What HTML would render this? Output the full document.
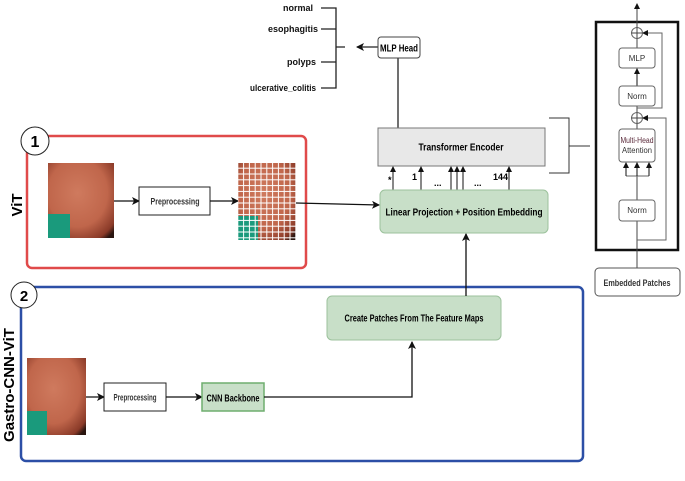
<!DOCTYPE html>
<html><head><style>body{margin:0;background:#fff}svg{display:block}text{font-family:"Liberation Sans",sans-serif}</style></head>
<body>
<svg width="685" height="481" viewBox="0 0 685 481" xmlns="http://www.w3.org/2000/svg">
<defs>
<marker id="a" markerWidth="8" markerHeight="8" refX="7" refY="4" orient="auto" markerUnits="userSpaceOnUse"><path d="M0,0 L8,4 L0,8 L2,4z" fill="#111"/></marker>
<marker id="s" markerWidth="6" markerHeight="6" refX="5" refY="3" orient="auto" markerUnits="userSpaceOnUse"><path d="M0,0 L6,3 L0,6z" fill="#111"/></marker>
<radialGradient id="g" cx="0.45" cy="0.4" r="0.75"><stop offset="0" stop-color="#cf7a5e"/><stop offset="0.6" stop-color="#c0664b"/><stop offset="0.9" stop-color="#8a3a28"/><stop offset="1" stop-color="#2a1510"/></radialGradient>
<pattern id="grid" width="5.8" height="5.8" patternUnits="userSpaceOnUse"><rect width="5.8" height="5.8" fill="none" stroke="#fff" stroke-width="1"/></pattern>
</defs>

<g font-size="9" font-weight="bold" fill="#111" text-anchor="end">
<text x="313" y="11">normal</text>
<text x="318" y="32">esophagitis</text>
<text x="316" y="65">polyps</text>
<text x="316" y="91" font-size="9.5" textLength="66" lengthAdjust="spacingAndGlyphs">ulcerative_colitis</text>
</g>
<g stroke="#222" stroke-width="1.3" fill="none">
<path d="M321,8 H336 V88 H321 M321,29 H336 M321,62 H336 M336,47 H345"/>
<line x1="378" y1="47" x2="357" y2="47" marker-end="url(#a)"/>
<line x1="398" y1="58" x2="398" y2="128"/>
</g>
<rect x="378" y="37" width="42" height="21" rx="3" fill="#fff" stroke="#444"/>
<text x="399" y="51.5" font-size="10" font-weight="bold" text-anchor="middle" textLength="38" lengthAdjust="spacingAndGlyphs">MLP Head</text>

<rect x="378" y="128" width="167" height="38" fill="#e8e8e8" stroke="#777"/>
<text x="461" y="150.5" font-size="10.5" font-weight="bold" text-anchor="middle" textLength="85" lengthAdjust="spacingAndGlyphs">Transformer Encoder</text>
<path d="M549,118 H569 V173 H549 M569,146 H590" stroke="#333" fill="none"/>
<g stroke="#111" stroke-width="1">
<line x1="393" y1="190" x2="393" y2="167" marker-end="url(#s)"/>
<line x1="421" y1="190" x2="421" y2="167" marker-end="url(#s)"/>
<line x1="451" y1="190" x2="451" y2="167" marker-end="url(#s)"/>
<line x1="457" y1="190" x2="457" y2="167" marker-end="url(#s)"/>
<line x1="463" y1="190" x2="463" y2="167" marker-end="url(#s)"/>
<line x1="509" y1="190" x2="509" y2="167" marker-end="url(#s)"/>
</g>
<g font-size="9" font-weight="bold">
<text x="388" y="183">*</text><text x="412" y="180">1</text>
<text x="434" y="186">...</text><text x="474" y="186">...</text><text x="493" y="180">144</text>
</g>
<rect x="380" y="190" width="168" height="43" rx="5" fill="#c8dfc8" stroke="#9cc29c"/>
<text x="464" y="215.5" font-size="10.5" font-weight="bold" text-anchor="middle" textLength="157" lengthAdjust="spacingAndGlyphs">Linear Projection + Position Embedding</text>

<rect x="27" y="136" width="279" height="132" rx="5" fill="none" stroke="#e04a4a" stroke-width="2.5"/>
<circle cx="35" cy="141" r="14" fill="#fff" stroke="#222"/>
<text x="35" y="147" font-size="16" font-weight="bold" text-anchor="middle">1</text>
<text transform="translate(22,205) rotate(-90)" font-size="15" font-weight="bold" text-anchor="middle">ViT</text>
<rect x="48" y="163" width="66" height="75" fill="url(#g)"/>
<rect x="48" y="214" width="22" height="24" fill="#1a9a7c"/>
<line x1="114" y1="201" x2="139" y2="201" stroke="#111" stroke-width="1.3" marker-end="url(#a)"/>
<rect x="139" y="187" width="71" height="28" fill="#fff" stroke="#222"/>
<text x="175" y="204.5" font-size="9.5" font-weight="bold" text-anchor="middle" fill="#333" textLength="49" lengthAdjust="spacingAndGlyphs">Preprocessing</text>
<line x1="210" y1="201" x2="238" y2="201" stroke="#111" stroke-width="1.3" marker-end="url(#a)"/>
<rect x="238" y="163" width="58" height="77" fill="url(#g)"/>
<rect x="238" y="216" width="20" height="24" fill="#1a9a7c"/>
<rect x="238" y="163" width="58" height="77" fill="url(#grid)"/>
<line x1="296" y1="203" x2="379" y2="205" stroke="#111" stroke-width="1.3" marker-end="url(#a)"/>

<rect x="21" y="287" width="562" height="174" rx="5" fill="none" stroke="#2c4fa6" stroke-width="2.5"/>
<circle cx="24" cy="295" r="13" fill="#fff" stroke="#222"/>
<text x="24" y="301" font-size="15" font-weight="bold" text-anchor="middle">2</text>
<text transform="translate(14,385) rotate(-90)" font-size="15" font-weight="bold" text-anchor="middle">Gastro-CNN-ViT</text>
<rect x="27" y="358" width="59" height="77" fill="url(#g)"/>
<rect x="27" y="411" width="20" height="24" fill="#1a9a7c"/>
<line x1="86" y1="397" x2="104" y2="397" stroke="#111" stroke-width="1.3" marker-end="url(#a)"/>
<rect x="104" y="383" width="62" height="28" fill="#fff" stroke="#222"/>
<text x="135" y="400.5" font-size="9.5" font-weight="bold" text-anchor="middle" fill="#333" textLength="43" lengthAdjust="spacingAndGlyphs">Preprocessing</text>
<line x1="166" y1="397" x2="202" y2="397" stroke="#111" stroke-width="1.3" marker-end="url(#a)"/>
<rect x="202" y="383" width="62" height="28" fill="#c8dfc8" stroke="#6fae6f" stroke-width="1.5"/>
<text x="233" y="401.5" font-size="10.5" font-weight="bold" text-anchor="middle" textLength="53" lengthAdjust="spacingAndGlyphs">CNN Backbone</text>
<path d="M264,397 H412 V342" stroke="#111" stroke-width="1.3" fill="none" marker-end="url(#a)"/>
<rect x="327" y="296" width="174" height="44" rx="5" fill="#c8dfc8" stroke="#9cc29c"/>
<text x="414" y="321.5" font-size="10.5" font-weight="bold" text-anchor="middle" textLength="139" lengthAdjust="spacingAndGlyphs">Create Patches From The  Feature Maps</text>
<line x1="466" y1="296" x2="466" y2="234" stroke="#111" stroke-width="1.3" marker-end="url(#a)"/>

<rect x="596" y="22" width="82" height="228" fill="none" stroke="#111" stroke-width="2.5"/>
<line x1="637" y1="268" x2="637" y2="4" stroke="#444" marker-end="url(#s)"/>
<rect x="595" y="268" width="85" height="28" rx="4" fill="#fff" stroke="#555"/>
<text x="637" y="286" font-size="9" font-weight="bold" text-anchor="middle" fill="#333" textLength="67" lengthAdjust="spacingAndGlyphs">Embedded  Patches</text>
<g stroke="#666" fill="none">
<path d="M637,240 H666 V118 H643" marker-end="url(#s)"/>
<path d="M637,108 H662 V33 H643" marker-end="url(#s)"/>
<path d="M626,176 H649 M626,176 V163 M649,176 V163"/>
</g>
<line x1="626" y1="176" x2="626" y2="163" stroke="#111" marker-end="url(#s)"/>
<line x1="637" y1="176" x2="637" y2="163" stroke="#111" marker-end="url(#s)"/>
<line x1="649" y1="176" x2="649" y2="163" stroke="#111" marker-end="url(#s)"/>
<line x1="637" y1="86" x2="637" y2="69" stroke="#111" marker-end="url(#s)"/>
<g fill="#fff" stroke="#666">
<rect x="619" y="200" width="36" height="21" rx="3"/>
<rect x="619" y="129" width="36" height="33" rx="3"/>
<rect x="619" y="86" width="36" height="20" rx="3"/>
<rect x="619" y="48" width="36" height="20" rx="3"/>
<circle cx="637" cy="118" r="5.5"/><circle cx="637" cy="33" r="5.5"/>
</g>
<path d="M631.5,118 H642.5 M637,112.5 V123.5 M631.5,33 H642.5 M637,27.5 V38.5" stroke="#444"/>
<g font-size="8" text-anchor="middle" fill="#333">
<text x="637" y="213">Norm</text>
<text x="637" y="143" fill="#5a2a3a" textLength="33" lengthAdjust="spacingAndGlyphs">Multi-Head</text>
<text x="637" y="153" textLength="30" lengthAdjust="spacingAndGlyphs">Attention</text>
<text x="637" y="99">Norm</text>
<text x="637" y="61">MLP</text>
</g>
</svg>
</body></html>
